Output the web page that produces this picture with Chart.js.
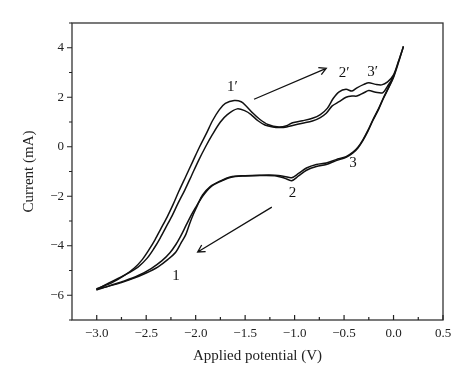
<!DOCTYPE html>
<html>
<head>
<meta charset="utf-8">
<script src="https://cdn.jsdelivr.net/npm/chart.js@4/dist/chart.umd.min.js"></script>
<style>
  html, body { margin: 0; padding: 0; background: #fff; }
  #wrap { width: 474px; height: 386px; }
</style>
</head>
<body>
<div id="wrap"><canvas id="c" width="474" height="386"></canvas></div>
<script>
// ---- Data ----
// Cycle 1 (outer loop): cathodic scan from +0.1 V to -3.0 V, then anodic back
const cycle1X = [0.10, 0.05, 0.00, -0.05, -0.10, -0.15, -0.21, -0.26, -0.31, -0.36, -0.41, -0.48, -0.58, -0.68, -0.78, -0.88, -0.96, -1.03, -1.10, -1.20, -1.35, -1.50, -1.65, -1.76, -1.85, -1.93, -1.98, -2.02, -2.06, -2.10, -2.15, -2.20, -2.28, -2.38, -2.50, -2.65, -2.80, -3.00,
  -2.85, -2.72, -2.62, -2.54, -2.47, -2.41, -2.35, -2.29, -2.23, -2.17, -2.10, -2.03, -1.96, -1.89, -1.83, -1.76, -1.70, -1.61, -1.54, -1.49, -1.42, -1.35, -1.27, -1.16, -1.08, -1.02, -0.92, -0.82, -0.74, -0.67, -0.61, -0.55, -0.48, -0.42, -0.37, -0.30, -0.25, -0.18, -0.12, -0.06, 0.00, 0.05, 0.10];
const cycle1Y = [4.05, 3.45, 2.85, 2.40, 2.00, 1.55, 1.08, 0.65, 0.28, -0.02, -0.22, -0.40, -0.52, -0.66, -0.72, -0.86, -1.08, -1.25, -1.20, -1.15, -1.15, -1.17, -1.22, -1.40, -1.60, -1.95, -2.35, -2.70, -3.10, -3.55, -3.90, -4.25, -4.55, -4.85, -5.10, -5.35, -5.55, -5.74,
  -5.50, -5.20, -4.90, -4.56, -4.15, -3.75, -3.30, -2.85, -2.35, -1.80, -1.20, -0.60, 0.00, 0.55, 1.05, 1.50, 1.75, 1.87, 1.82, 1.65, 1.35, 1.10, 0.90, 0.80, 0.85, 0.97, 1.05, 1.15, 1.30, 1.55, 1.95, 2.22, 2.32, 2.25, 2.38, 2.52, 2.59, 2.52, 2.50, 2.62, 2.90, 3.45, 4.05];
// Cycle 2 (inner loop)
const cycle2X = [0.10, 0.05, 0.00, -0.05, -0.10, -0.15, -0.21, -0.26, -0.31, -0.36, -0.41, -0.48, -0.58, -0.68, -0.78, -0.88, -0.96, -1.03, -1.10, -1.20, -1.35, -1.50, -1.65, -1.76, -1.85, -1.93, -2.00, -2.05, -2.10, -2.15, -2.20, -2.26, -2.34, -2.45, -2.58, -2.72, -2.86, -3.00,
  -2.85, -2.70, -2.58, -2.49, -2.42, -2.36, -2.30, -2.24, -2.18, -2.11, -2.04, -1.97, -1.90, -1.83, -1.75, -1.68, -1.58, -1.50, -1.44, -1.37, -1.30, -1.22, -1.15, -1.08, -1.02, -0.92, -0.82, -0.74, -0.68, -0.62, -0.55, -0.48, -0.42, -0.37, -0.30, -0.25, -0.18, -0.11, -0.06, 0.00, 0.05, 0.10];
const cycle2Y = [4.05, 3.40, 2.80, 2.38, 1.97, 1.52, 1.05, 0.62, 0.25, -0.05, -0.25, -0.43, -0.56, -0.72, -0.80, -0.95, -1.18, -1.37, -1.27, -1.17, -1.16, -1.18, -1.24, -1.42, -1.63, -2.00, -2.45, -2.80, -3.20, -3.60, -3.95, -4.28, -4.60, -4.92, -5.20, -5.42, -5.60, -5.78,
  -5.45, -5.15, -4.85, -4.50, -4.10, -3.70, -3.25, -2.80, -2.30, -1.75, -1.15, -0.55, 0.00, 0.50, 1.00, 1.30, 1.53, 1.45, 1.30, 1.05, 0.88, 0.80, 0.78, 0.80, 0.86, 0.95, 1.04, 1.18, 1.35, 1.65, 1.82, 2.00, 2.05, 2.05, 2.18, 2.27, 2.20, 2.18, 2.45, 2.85, 3.42, 4.05];

// Tick values / labels
const xMajorTicks = [-3.0, -2.5, -2.0, -1.5, -1.0, -0.5, 0.0, 0.5];
const xMinorTicks = [-2.75, -2.25, -1.75, -1.25, -0.75, -0.25, 0.25];
const yMajorTicks = [-6, -4, -2, 0, 2, 4];
const yMinorTicks = [-7, -5, -3, -1, 1, 3, 5];

// Peak labels (data coordinates)
const peakLabels = ['1\u2032', '2\u2032', '3\u2032', '1', '2', '3'];
const peakLabelX = [-1.63, -0.50, -0.21, -2.20, -1.02, -0.41];
const peakLabelY = [2.40, 2.97, 3.03, -5.23, -1.87, -0.66];

// Scan-direction arrows (data coordinates)
const arrowFromX = [-1.41, -1.23];
const arrowFromY = [1.92, -2.44];
const arrowToX = [-0.68, -1.98];
const arrowToY = [3.17, -4.25];

// ---- Chart ----
const toPts = (xs, ys) => xs.map((x, i) => ({ x: x, y: ys[i] }));
const fmt = v => (v < 0 ? '\u2212' : '') + Math.abs(v).toFixed(1);
const SERIF = '"Liberation Serif", "DejaVu Serif", serif';

const decor = {
  id: 'decor',
  afterDraw(chart) {
    const { ctx, chartArea: a, scales: { x, y } } = chart;
    ctx.save();
    // frame
    ctx.strokeStyle = '#333';
    ctx.lineWidth = 1.3;
    ctx.strokeRect(a.left, a.top, a.right - a.left, a.bottom - a.top);
    ctx.strokeStyle = '#222';
    ctx.lineWidth = 1.2;
    ctx.beginPath();
    // x ticks (inward)
    xMajorTicks.forEach(v => { const p = x.getPixelForValue(v); ctx.moveTo(p, a.bottom); ctx.lineTo(p, a.bottom - 5); });
    xMinorTicks.forEach(v => { const p = x.getPixelForValue(v); ctx.moveTo(p, a.bottom); ctx.lineTo(p, a.bottom - 3); });
    // y ticks (outward)
    yMajorTicks.forEach(v => { const p = y.getPixelForValue(v); ctx.moveTo(a.left, p); ctx.lineTo(a.left - 5, p); });
    yMinorTicks.forEach(v => { const p = y.getPixelForValue(v); ctx.moveTo(a.left, p); ctx.lineTo(a.left - 3, p); });
    ctx.stroke();

    // arrows
    ctx.strokeStyle = '#111';
    ctx.lineWidth = 1.3;
    for (let i = 0; i < arrowFromX.length; i++) {
      const x0 = x.getPixelForValue(arrowFromX[i]), y0 = y.getPixelForValue(arrowFromY[i]);
      const x1 = x.getPixelForValue(arrowToX[i]), y1 = y.getPixelForValue(arrowToY[i]);
      const ang = Math.atan2(y1 - y0, x1 - x0);
      ctx.beginPath();
      ctx.moveTo(x0, y0); ctx.lineTo(x1, y1);
      const L = 8, w = 0.5;
      ctx.moveTo(x1 - L * Math.cos(ang - w), y1 - L * Math.sin(ang - w));
      ctx.lineTo(x1, y1);
      ctx.lineTo(x1 - L * Math.cos(ang + w), y1 - L * Math.sin(ang + w));
      ctx.stroke();
    }

    // peak labels
    ctx.fillStyle = '#111';
    ctx.font = '15px ' + SERIF;
    ctx.textAlign = 'center';
    ctx.textBaseline = 'middle';
    peakLabels.forEach((t, i) => {
      ctx.fillText(t, x.getPixelForValue(peakLabelX[i]), y.getPixelForValue(peakLabelY[i]));
    });
    ctx.restore();
  }
};

new Chart(document.getElementById('c'), {
  type: 'scatter',
  data: {
    datasets: [
      { label: 'Cycle 1', data: toPts(cycle1X, cycle1Y), showLine: true, borderColor: '#111', borderWidth: 1.5, pointRadius: 0, tension: 0.3, fill: false },
      { label: 'Cycle 2', data: toPts(cycle2X, cycle2Y), showLine: true, borderColor: '#111', borderWidth: 1.5, pointRadius: 0, tension: 0.3, fill: false }
    ]
  },
  options: {
    responsive: false,
    animation: false,
    devicePixelRatio: 1,
    layout: { padding: { top: 23, right: 31, left: 0, bottom: 0 } },
    plugins: { legend: { display: false }, tooltip: { enabled: false } },
    scales: {
      x: {
        type: 'linear',
        min: -3.25, max: 0.5,
        afterBuildTicks: s => { s.ticks = xMajorTicks.map(v => ({ value: v })); },
        ticks: { callback: v => fmt(v), autoSkip: false, maxRotation: 0, padding: 6, color: '#222', font: { family: SERIF, size: 13 } },
        grid: { display: false, drawTicks: false },
        border: { display: false },
        title: { display: true, text: 'Applied potential (V)', color: '#222', font: { family: SERIF, size: 15 }, padding: { top: 0, bottom: 21 } },
        afterFit: s => { s.height = 66; }
      },
      y: {
        type: 'linear',
        min: -7, max: 5,
        afterBuildTicks: s => { s.ticks = yMajorTicks.map(v => ({ value: v })); },
        ticks: { callback: v => (v < 0 ? '\u2212' : '') + Math.abs(v), autoSkip: false, padding: 8, color: '#222', font: { family: SERIF, size: 13 } },
        grid: { display: false, drawTicks: false },
        border: { display: false },
        title: { display: true, text: 'Current (mA)', color: '#222', font: { family: SERIF, size: 15 }, padding: { top: 20, bottom: 0 } },
        afterFit: s => { s.width = 72; }
      }
    }
  },
  plugins: [decor]
});
</script>
</body>
</html>
